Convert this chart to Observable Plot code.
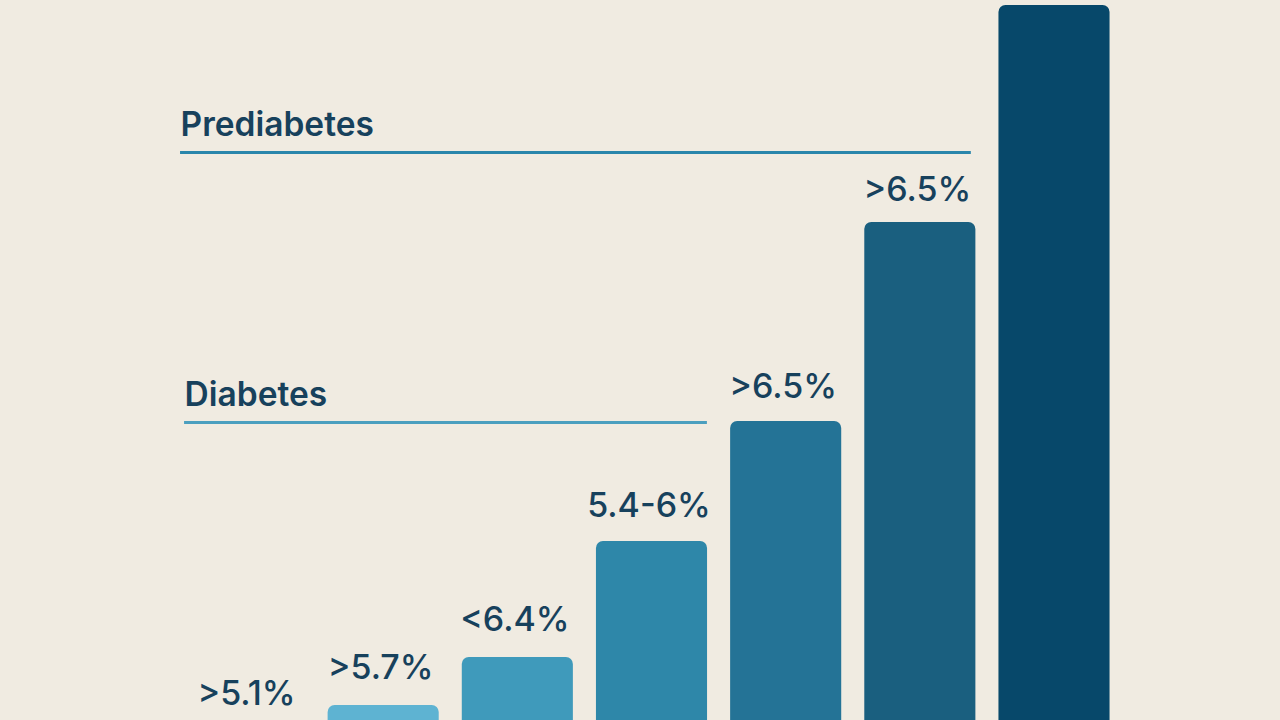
<!DOCTYPE html>
<html>
<head>
<meta charset="utf-8">
<script src="https://cdn.jsdelivr.net/npm/d3@7"></script>
<script src="https://cdn.jsdelivr.net/npm/@observablehq/plot@0.6"></script>
<style>
html,body{margin:0;padding:0;background:#f0ebe1;overflow:hidden}
svg{display:block}
</style>
</head>
<body>
<div id="chart"></div>
<script>
const positions = [0, 1, 2, 3, 4, 5, 6];
const barValues = [0, 15, 63, 179, 299, 498, 715];
const barColors = ["#6bbad6", "#5eb3d2", "#3f9abb", "#2e87a9", "#247396", "#1a5f7f", "#07486a"];
const labels = [">5.1%", ">5.7%", "<6.4%", "5.4-6%", ">6.5%", ">6.5%"];
const labelValues = [26, 52, 100, 214, 333, 530];
const groupNames = ["Diabetes", "Prediabetes"];
const groupValues = [298, 568];
const groupLabelValues = [325, 595];
const groupStart = [-0.484, -0.514];
const groupEnd = [3.413, 5.38];
const groupColors = ["#4b9fbf", "#2a86ab"];

const bars = positions.map((p, i) => ({p, v: barValues[i], c: barColors[i]}));
const tags = labels.map((t, i) => ({p: i, v: labelValues[i], t}));
const groups = groupNames.map((n, i) => ({n, v: groupValues[i], l: groupLabelValues[i], a: groupStart[i], b: groupEnd[i], c: groupColors[i]}));
const ink = "#17415c";
const font = "Inter, sans-serif";

const chart = Plot.plot({
  width: 1280,
  height: 720,
  margin: 0,
  style: {background: "#f0ebe1"},
  x: {type: "linear", domain: [0, 6], range: [249, 1054], axis: null},
  y: {type: "linear", domain: [0, 720], range: [720, 0], axis: null},
  marks: [
    Plot.rect(bars, {
      x1: d => d.p - 0.414,
      x2: d => d.p + 0.414,
      y1: () => -20,
      y2: "v",
      fill: "c",
      rx: 7
    }),
    Plot.ruleY(groups, {y: "v", x1: "a", x2: "b", stroke: "c", strokeWidth: 3}),
    Plot.text(groups, {
      x: "a",
      y: "l",
      text: "n",
      textAnchor: "start",
      fill: ink,
      fontFamily: font,
      fontWeight: 600,
      fontSize: 33.5
    }),
    Plot.text(tags, {
      x: "p",
      y: "v",
      text: "t",
      dx: -3,
      fill: ink,
      fontFamily: font,
      fontWeight: 500,
      fontSize: 34
    })
  ]
});
document.getElementById("chart").appendChild(chart);
</script>
</body>
</html>
